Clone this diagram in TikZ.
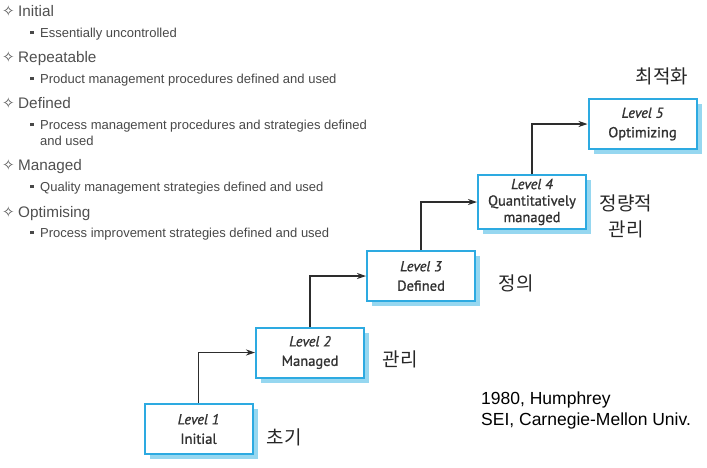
\documentclass[tikz,border=0pt]{standalone}
\usepackage{fontspec}
\setmainfont{Liberation Sans}
\newfontfamily\boxfont[FakeBold=1.1]{PT Sans}
\newfontfamily\korfont{Noto Sans CJK KR}
\newfontfamily\symfont{DejaVu Sans}
\usetikzlibrary{shadows, arrows.meta}

\definecolor{boxblue}{RGB}{45,170,225}
\definecolor{shadeblue}{RGB}{150,215,240}
\definecolor{listgray}{RGB}{80,80,80}
\definecolor{boxtext}{RGB}{50,50,50}
\definecolor{arrowgray}{RGB}{45,45,45}

\tikzset{
	lvlbox/.style={draw=boxblue, line width=2pt, fill=white, minimum width=108pt, minimum height=50pt,
		align=center, text=boxtext, font=\boxfont\fontsize{14.5}{19.5}\selectfont,
		drop shadow={fill=shadeblue, opacity=1, shadow xshift=5pt, shadow yshift=-5pt}},
	kor/.style={font=\korfont\fontsize{19}{25}\selectfont, text=black!85},
	head/.style={anchor=base west, inner sep=0pt, text=listgray, font=\fontsize{15.3}{18}\selectfont},
	item/.style={anchor=base west, inner sep=0pt, text=listgray!90!black, font=\fontsize{13}{15}\selectfont},
	climb/.style={arrows=-{Stealth[length=9pt, width=6pt]}, draw=arrowgray, line width=1.1pt}
}

\newcommand{\hdiamond}{\makebox[16pt][l]{\raisebox{-0.5pt}{\symfont\fontsize{15}{17}\selectfont ✧}}}
\newcommand{\sqbullet}{\rule[2.8pt]{3.5pt}{3.5pt}\hspace{6.5pt}}

\begin{document}
\begin{tikzpicture}[x=1pt, y=-1pt]
	\useasboundingbox (0,0) rectangle (707,467);

	% list of levels
	\node[head] (h1) at (2,16)  {\hdiamond Initial};
	\node[item] (i1) at (30,37) {\sqbullet Essentially uncontrolled};
	\node[head] (h2) at (2,62)  {\hdiamond Repeatable};
	\node[item] (i2) at (30,83) {\sqbullet Product management procedures defined and used};
	\node[head] (h3) at (2,108) {\hdiamond Defined};
	\node[item] (i3) at (30,129) {\sqbullet Process management procedures and strategies defined};
	\node[item] (i3b) at (40,145) {and used};
	\node[head] (h4) at (2,170) {\hdiamond Managed};
	\node[item] (i4) at (30,191) {\sqbullet Quality management strategies defined and used};
	\node[head] (h5) at (2,217) {\hdiamond Optimising};
	\node[item] (i5) at (30,237) {\sqbullet Process improvement strategies defined and used};

	% staircase
	\node[lvlbox] (lvl1) at (198.5,429) {\textit{Level 1}\\Initial};
	\node[lvlbox] (lvl2) at (310,352.5) {\textit{Level 2}\\Managed};
	\node[lvlbox] (lvl3) at (421,276)   {\textit{Level 3}\\Defined};
	\node[lvlbox, minimum height=52pt, font=\boxfont\fontsize{14.5}{16.5}\selectfont] (lvl4) at (532,202) {\textit{Level 4}\\Quantitatively\\managed};
	\node[lvlbox] (lvl5) at (642.5,124) {\textit{Level 5}\\Optimizing};

	\draw[climb] (lvl1.north) |- (lvl2.west);
	\draw[climb] (lvl2.north) |- (lvl3.west);
	\draw[climb] (lvl3.north) |- (lvl4.west);
	\draw[climb] (lvl4.north) |- (lvl5.west);

	% korean names
	\node[kor] (k1) at (284,437) {초기};
	\node[kor] (k2) at (400,359) {관리};
	\node[kor] (k3) at (516,283) {정의};
	\node[kor, align=center, font=\korfont\fontsize{19}{26}\selectfont] (k4) at (626,216) {정량적\\관리};
	\node[kor] (k5) at (662,76) {최적화};

	% source
	\node[anchor=base west, inner sep=0pt, font=\fontsize{17.5}{20}\selectfont] (src1) at (481,404) {1980, Humphrey};
	\node[anchor=base west, inner sep=0pt, font=\fontsize{17.5}{20}\selectfont] (src2) at (481,425) {SEI, Carnegie-Mellon Univ.};
\end{tikzpicture}
\end{document}
